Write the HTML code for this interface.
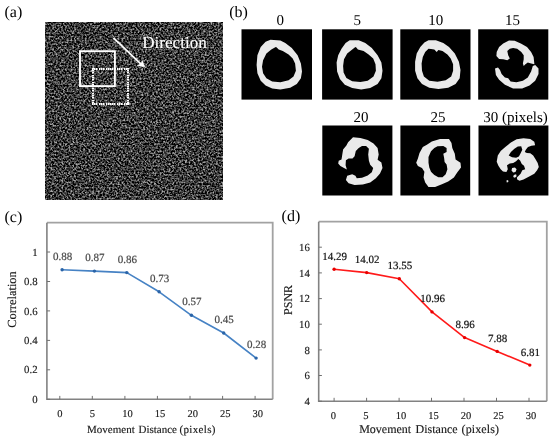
<!DOCTYPE html>
<html><head><meta charset="utf-8"><style>
html,body{margin:0;padding:0;background:#fff;}
body{width:550px;height:439px;overflow:hidden;position:relative;}
svg{position:absolute;left:0;top:0;}
text{font-family:"Liberation Serif","Times New Roman",serif;text-rendering:geometricPrecision;}
.t{fill:#1a1a1a;stroke:#1a1a1a;stroke-width:0.15;}
</style></head><body>
<svg width="550" height="439" viewBox="0 0 550 439">
<defs>
<filter id="spk" x="0" y="0" width="1" height="1" filterUnits="objectBoundingBox" color-interpolation-filters="sRGB">
<feTurbulence type="fractalNoise" baseFrequency="0.55" numOctaves="2" seed="7" result="n"/>
<feColorMatrix type="matrix" values="0 0 0 0 0  0 0 0 0 0  0 0 0 0 0  1 0 0 0 0" in="n" result="a"/>
<feComponentTransfer in="a" result="b"><feFuncA type="linear" slope="2.5" intercept="-0.91"/></feComponentTransfer>
<feFlood flood-color="#000" result="bk"/>
<feFlood flood-color="#acacac" result="wh"/>
<feComposite in="wh" in2="b" operator="in" result="whb"/>
<feMerge><feMergeNode in="bk"/><feMergeNode in="whb"/></feMerge>
</filter>
</defs>

<rect x="45" y="22" width="178" height="178" fill="#000" filter="url(#spk)"/>
<rect x="80" y="51.2" width="34.9" height="34.9" fill="none" stroke="#fff" stroke-width="1.9"/>
<path d="M92,68h1.5v2h-1.5zM92,103h1.5v2h-1.5zM94,68h1.5v2h-1.5zM94,103h1.5v2h-1.5zM96,68h1.5v2h-1.5zM96,103h1.5v2h-1.5zM99,68h1.5v2h-1.5zM99,103h1.5v2h-1.5zM101,68h1.5v2h-1.5zM101,103h1.5v2h-1.5zM103,68h1.5v2h-1.5zM103,103h1.5v2h-1.5zM106,68h1.5v2h-1.5zM106,103h1.5v2h-1.5zM108,68h1.5v2h-1.5zM108,103h1.5v2h-1.5zM110,68h1.5v2h-1.5zM110,103h1.5v2h-1.5zM112,68h1.5v2h-1.5zM112,103h1.5v2h-1.5zM114,68h1.5v2h-1.5zM114,103h1.5v2h-1.5zM117,68h1.5v2h-1.5zM117,103h1.5v2h-1.5zM119,68h1.5v2h-1.5zM119,103h1.5v2h-1.5zM121,68h1.5v2h-1.5zM121,103h1.5v2h-1.5zM124,68h1.5v2h-1.5zM124,103h1.5v2h-1.5zM126,68h1.5v2h-1.5zM126,103h1.5v2h-1.5zM92,68h2v1.5h-2zM127,68h2v1.5h-2zM92,70h2v1.5h-2zM127,70h2v1.5h-2zM92,72h2v1.5h-2zM127,72h2v1.5h-2zM92,75h2v1.5h-2zM127,75h2v1.5h-2zM92,77h2v1.5h-2zM127,77h2v1.5h-2zM92,79h2v1.5h-2zM127,79h2v1.5h-2zM92,82h2v1.5h-2zM127,82h2v1.5h-2zM92,84h2v1.5h-2zM127,84h2v1.5h-2zM92,86h2v1.5h-2zM127,86h2v1.5h-2zM92,88h2v1.5h-2zM127,88h2v1.5h-2zM92,90h2v1.5h-2zM127,90h2v1.5h-2zM92,93h2v1.5h-2zM127,93h2v1.5h-2zM92,95h2v1.5h-2zM127,95h2v1.5h-2zM92,97h2v1.5h-2zM127,97h2v1.5h-2zM92,100h2v1.5h-2zM127,100h2v1.5h-2zM92,102h2v1.5h-2zM127,102h2v1.5h-2zM127,103h2v2h-2z" fill="#fff"/>
<line x1="113.4" y1="37.8" x2="143.2" y2="66.2" stroke="#fff" stroke-width="1.7"/>
<path d="M144.8,66.9 L137.1,65.5 L140.8,63.9 L142.4,60.5 Z" fill="#fff" stroke="#fff" stroke-width="0.5" stroke-linejoin="round"/>
<text x="142.2" y="47.8" font-size="17.1" fill="#fff" stroke="#fff" stroke-width="0.1">Direction</text>
<text x="4.5" y="16.9" font-size="16">(a)</text>
<text x="229.2" y="17.1" font-size="16">(b)</text>
<text x="4.5" y="222.4" font-size="16">(c)</text>
<text x="281.6" y="221.4" font-size="16">(d)</text>
<rect x="241.5" y="29.3" width="70.5" height="70.3" fill="#000"/>
<rect x="322.1" y="29.3" width="70.5" height="70.3" fill="#000"/>
<rect x="400.3" y="29.3" width="70.2" height="70.3" fill="#000"/>
<rect x="478.2" y="29.3" width="70.1" height="70.3" fill="#000"/>
<rect x="322.3" y="125.5" width="70.1" height="70.0" fill="#000"/>
<rect x="400.4" y="125.5" width="69.8" height="70.0" fill="#000"/>
<rect x="478.5" y="125.5" width="69.9" height="70.0" fill="#000"/>
<path d="M270.5,39.7 280.4,40.5 285.3,42.9 291.8,47.9 297.6,55.2 300.9,63.4 302.0,71.6 300.9,78.2 296.8,83.9 290.2,87.7 280.4,89.4 272.2,88.4 265.6,85.6 260.7,80.7 257.4,73.3 256.6,65.1 257.4,55.2 260.7,47.0 265.6,41.8ZM275.8,47.0 271.3,49.5 266.4,53.6 263.1,60.2 262.0,66.7 263.1,73.3 266.4,78.2 272.2,81.5 280.4,82.3 288.6,80.2 293.5,76.6 295.9,70.8 295.1,63.4 292.7,58.5 288.6,54.4 282.8,51.1 278.7,49.5 276.8,47.4ZM349.7,40.2 358.7,40.2 365.3,42.9 371.8,47.9 377.6,55.2 381.4,62.6 382.5,70.8 381.4,78.2 377.6,83.9 370.2,88.0 361.2,89.4 352.2,88.0 344.8,84.8 339.9,79.0 337.1,71.6 336.6,62.6 338.2,55.2 341.5,48.7 345.6,42.9ZM355.4,47.0 351.3,50.3 347.2,53.6 344.0,59.3 343.1,65.9 343.6,72.5 346.4,77.9 352.2,81.2 360.4,82.0 367.7,80.7 373.5,76.6 375.9,70.8 375.5,64.3 373.2,58.5 368.6,54.4 363.6,51.1 357.9,49.5 356.3,47.4ZM428.5,40.2 435.9,40.2 443.3,42.9 449.0,47.0 454.8,53.6 458.9,61.8 460.5,70.0 459.7,78.2 455.6,83.9 448.2,87.7 438.4,88.9 429.3,87.7 422.0,83.9 417.4,78.2 415.1,70.8 415.1,61.8 416.7,53.6 420.3,47.0 424.4,42.4ZM428.5,48.7 425.2,52.0 422.8,56.9 421.6,63.4 422.0,70.8 423.9,76.6 429.3,80.7 437.5,81.8 445.7,80.2 451.2,76.6 453.1,70.8 453.1,64.3 450.7,58.5 447.4,54.4 442.5,51.1 438.4,50.0 436.7,52.0 434.3,49.5 431.0,49.0ZM496.4,56.1 496.7,52.0 499.1,47.0 503.2,43.4 509.0,40.5 514.7,40.8 521.3,43.8 527.0,47.0 531.1,52.0 533.6,56.9 534.4,64.3 531.1,63.4 527.8,62.6 525.4,64.3 523.7,65.9 522.9,63.4 523.7,59.3 523.7,55.2 521.3,52.0 517.2,48.7 513.1,47.9 509.8,48.7 507.3,51.1 508.2,55.2 509.8,58.5 507.3,60.2 503.2,59.3 499.1,58.9ZM495.0,68.4 495.9,74.9 499.1,79.8 504.9,84.8 513.1,88.4 522.1,88.4 529.5,85.6 535.2,80.7 538.5,74.1 538.5,68.4 535.2,65.1 532.8,65.9 531.1,71.6 527.8,77.4 522.9,80.7 516.4,82.3 510.6,81.5 508.2,78.2 504.9,77.4 501.6,74.1 500.0,70.0 498.0,67.5ZM341.5,159.4 342.3,154.5 343.1,149.6 346.4,145.5 348.1,142.2 353.0,137.3 360.4,138.1 367.7,140.1 373.5,143.4 377.6,148.0 378.7,154.5 377.6,159.8 381.4,162.4 382.5,168.0 380.0,173.4 375.9,178.3 370.2,182.4 362.8,184.5 354.6,185.0 348.6,183.2 345.9,179.9 347.2,175.8 352.2,174.2 355.4,175.8 356.8,178.3 362.0,177.8 367.7,175.5 371.8,172.2 373.2,168.0 370.2,164.7 368.9,160.8 368.2,154.5 368.9,148.8 366.1,146.0 362.0,146.0 358.7,148.0 355.8,150.9 354.6,156.2 352.5,158.6 348.6,158.6 345.9,160.3 345.6,165.2 346.9,169.6 344.0,168.0 340.4,166.0 338.2,163.5 338.7,160.8ZM431.8,141.4 440.0,138.9 449.0,138.9 451.5,143.0 452.3,148.0 454.8,153.7 455.6,159.4 460.5,162.7 461.0,167.6 457.2,172.6 453.9,177.5 448.2,181.6 442.5,184.0 435.1,187.0 428.5,187.0 425.2,182.4 423.6,177.5 424.4,171.7 422.0,168.0 417.9,166.0 416.2,162.7 417.9,158.6 419.5,152.9 422.8,147.1 426.9,144.7ZM437.5,146.3 443.3,146.0 446.6,148.0 446.6,152.1 443.3,153.7 444.1,157.8 444.6,161.9 446.6,164.4 447.4,169.3 445.7,174.2 442.5,177.2 438.4,177.2 434.3,175.0 431.0,171.7 429.3,167.6 428.5,162.7 428.5,157.0 431.0,151.2 434.3,148.0ZM496.7,161.8 497.8,155.5 500.7,150.9 505.3,147.0 510.9,142.4 516.6,139.3 523.5,138.2 530.3,139.0 534.3,141.8 535.1,145.3 531.4,145.8 528.0,147.0 525.8,149.8 524.8,152.1 526.9,153.0 530.3,153.2 533.2,155.5 535.4,158.9 537.7,162.9 538.8,166.9 537.1,170.3 534.3,173.7 529.2,176.6 523.5,179.4 519.5,180.8 517.2,179.6 516.9,177.4 520.6,173.7 522.3,170.3 525.2,169.2 524.0,165.8 521.8,164.0 520.1,160.6 518.3,158.9 516.1,161.2 513.2,162.9 509.8,163.5 507.0,165.2 507.8,169.2 506.4,172.0 503.0,171.4 500.7,169.2 498.4,165.8ZM508.7,155.5 510.9,152.1 514.4,148.7 517.8,146.4 521.2,146.2 522.3,149.8 520.6,153.2 518.9,156.6 516.1,157.8 512.1,157.2ZM512.1,168.0 514.9,167.5 516.6,169.2 515.5,172.0 513.2,172.6 511.5,170.5ZM513.8,174.9 516.1,174.3 516.6,176.2 514.9,177.7 513.2,176.9ZM506.4,180.6 508.1,180.0 508.4,181.9 506.8,182.4Z" fill="#e9e9e9" fill-rule="evenodd"/>
<text x="280.3" y="24.6" font-size="15" text-anchor="middle">0</text>
<text x="357.3" y="24.6" font-size="15" text-anchor="middle">5</text>
<text x="435.8" y="24.6" font-size="15" text-anchor="middle">10</text>
<text x="512.6" y="24.6" font-size="15" text-anchor="middle">15</text>
<text x="360.9" y="121.8" font-size="15" text-anchor="middle">20</text>
<text x="437.9" y="121.8" font-size="15" text-anchor="middle">25</text>
<text x="483.3" y="121.8" font-size="15">30 (pixels)</text>
<path d="M46.9,222.7 H272.7 V399.3" fill="none" stroke="#a2a2a2" stroke-width="1.8"/>
<path d="M46.9,222.7 V399.3 H272.7" fill="none" stroke="#828282" stroke-width="1.6"/>
<line x1="46.9" y1="399.3" x2="50.1" y2="399.3" stroke="#707070" stroke-width="1"/>
<text x="37.6" y="402.9" font-size="10.8" text-anchor="end" class="t">0</text>
<line x1="46.9" y1="369.8" x2="50.1" y2="369.8" stroke="#707070" stroke-width="1"/>
<text x="37.6" y="373.4" font-size="10.8" text-anchor="end" class="t">0.2</text>
<line x1="46.9" y1="340.4" x2="50.1" y2="340.4" stroke="#707070" stroke-width="1"/>
<text x="37.6" y="344.0" font-size="10.8" text-anchor="end" class="t">0.4</text>
<line x1="46.9" y1="310.9" x2="50.1" y2="310.9" stroke="#707070" stroke-width="1"/>
<text x="37.6" y="314.5" font-size="10.8" text-anchor="end" class="t">0.6</text>
<line x1="46.9" y1="281.5" x2="50.1" y2="281.5" stroke="#707070" stroke-width="1"/>
<text x="37.6" y="285.1" font-size="10.8" text-anchor="end" class="t">0.8</text>
<line x1="46.9" y1="252.0" x2="50.1" y2="252.0" stroke="#707070" stroke-width="1"/>
<text x="37.6" y="255.6" font-size="10.8" text-anchor="end" class="t">1</text>
<line x1="59.8" y1="399.3" x2="59.8" y2="395.9" stroke="#707070" stroke-width="1"/>
<text x="57.2" y="416.6" font-size="10.5" class="t">0</text>
<line x1="92.3" y1="399.3" x2="92.3" y2="395.9" stroke="#707070" stroke-width="1"/>
<text x="89.8" y="416.6" font-size="10.5" class="t">5</text>
<line x1="124.9" y1="399.3" x2="124.9" y2="395.9" stroke="#707070" stroke-width="1"/>
<text x="122.3" y="416.6" font-size="10.5" class="t">10</text>
<line x1="157.4" y1="399.3" x2="157.4" y2="395.9" stroke="#707070" stroke-width="1"/>
<text x="154.8" y="416.6" font-size="10.5" class="t">15</text>
<line x1="190.0" y1="399.3" x2="190.0" y2="395.9" stroke="#707070" stroke-width="1"/>
<text x="187.4" y="416.6" font-size="10.5" class="t">20</text>
<line x1="222.6" y1="399.3" x2="222.6" y2="395.9" stroke="#707070" stroke-width="1"/>
<text x="220.0" y="416.6" font-size="10.5" class="t">25</text>
<line x1="255.1" y1="399.3" x2="255.1" y2="395.9" stroke="#707070" stroke-width="1"/>
<text x="252.5" y="416.6" font-size="10.5" class="t">30</text>
<polyline points="62.1,269.7 94.4,271.1 126.8,272.6 159.1,291.8 191.4,315.3 223.7,333.0 256.1,358.1" fill="none" stroke="#4682c4" stroke-width="1.6" stroke-linejoin="round"/>
<circle cx="62.1" cy="269.7" r="1.7" fill="#2a64a8"/>
<text x="62.6" y="259.7" font-size="11" text-anchor="middle" fill="#474747" stroke="#474747" stroke-width="0.2">0.88</text>
<circle cx="94.4" cy="271.1" r="1.7" fill="#2a64a8"/>
<text x="94.9" y="261.1" font-size="11" text-anchor="middle" fill="#474747" stroke="#474747" stroke-width="0.2">0.87</text>
<circle cx="126.8" cy="272.6" r="1.7" fill="#2a64a8"/>
<text x="127.3" y="262.6" font-size="11" text-anchor="middle" fill="#474747" stroke="#474747" stroke-width="0.2">0.86</text>
<circle cx="159.1" cy="291.8" r="1.7" fill="#2a64a8"/>
<text x="159.6" y="281.8" font-size="11" text-anchor="middle" fill="#474747" stroke="#474747" stroke-width="0.2">0.73</text>
<circle cx="191.4" cy="315.3" r="1.7" fill="#2a64a8"/>
<text x="191.9" y="305.3" font-size="11" text-anchor="middle" fill="#474747" stroke="#474747" stroke-width="0.2">0.57</text>
<circle cx="223.7" cy="333.0" r="1.7" fill="#2a64a8"/>
<text x="224.2" y="323.0" font-size="11" text-anchor="middle" fill="#474747" stroke="#474747" stroke-width="0.2">0.45</text>
<circle cx="256.1" cy="358.1" r="1.7" fill="#2a64a8"/>
<text x="256.6" y="348.1" font-size="11" text-anchor="middle" fill="#474747" stroke="#474747" stroke-width="0.2">0.28</text>
<text y="432.9" font-size="11.0" class="t"><tspan x="87.1">Movement</tspan> <tspan x="138.5">Distance</tspan> <tspan x="179.4" letter-spacing="0.36">(pixels)</tspan></text>
<text transform="translate(16.4,299.5) rotate(-90)" font-size="12.4" text-anchor="middle" class="t">Correlation</text>
<path d="M318.7,221.7 H546.8 V401.2" fill="none" stroke="#a2a2a2" stroke-width="1.8"/>
<path d="M318.7,221.7 V401.2 H546.8" fill="none" stroke="#828282" stroke-width="1.6"/>
<line x1="318.7" y1="401.2" x2="321.9" y2="401.2" stroke="#707070" stroke-width="1"/>
<text x="309.8" y="404.8" font-size="10.8" text-anchor="end" class="t">4</text>
<line x1="318.7" y1="375.5" x2="321.9" y2="375.5" stroke="#707070" stroke-width="1"/>
<text x="309.8" y="379.1" font-size="10.8" text-anchor="end" class="t">6</text>
<line x1="318.7" y1="349.9" x2="321.9" y2="349.9" stroke="#707070" stroke-width="1"/>
<text x="309.8" y="353.5" font-size="10.8" text-anchor="end" class="t">8</text>
<line x1="318.7" y1="324.2" x2="321.9" y2="324.2" stroke="#707070" stroke-width="1"/>
<text x="309.8" y="327.8" font-size="10.8" text-anchor="end" class="t">10</text>
<line x1="318.7" y1="298.6" x2="321.9" y2="298.6" stroke="#707070" stroke-width="1"/>
<text x="309.8" y="302.2" font-size="10.8" text-anchor="end" class="t">12</text>
<line x1="318.7" y1="272.9" x2="321.9" y2="272.9" stroke="#707070" stroke-width="1"/>
<text x="309.8" y="276.5" font-size="10.8" text-anchor="end" class="t">14</text>
<line x1="318.7" y1="247.2" x2="321.9" y2="247.2" stroke="#707070" stroke-width="1"/>
<text x="309.8" y="250.8" font-size="10.8" text-anchor="end" class="t">16</text>
<line x1="334.1" y1="401.2" x2="334.1" y2="397.8" stroke="#707070" stroke-width="1"/>
<text x="330.8" y="419.0" font-size="10.5" class="t">0</text>
<line x1="366.6" y1="401.2" x2="366.6" y2="397.8" stroke="#707070" stroke-width="1"/>
<text x="363.3" y="419.0" font-size="10.5" class="t">5</text>
<line x1="399.1" y1="401.2" x2="399.1" y2="397.8" stroke="#707070" stroke-width="1"/>
<text x="395.8" y="419.0" font-size="10.5" class="t">10</text>
<line x1="431.5" y1="401.2" x2="431.5" y2="397.8" stroke="#707070" stroke-width="1"/>
<text x="428.2" y="419.0" font-size="10.5" class="t">15</text>
<line x1="464.0" y1="401.2" x2="464.0" y2="397.8" stroke="#707070" stroke-width="1"/>
<text x="460.7" y="419.0" font-size="10.5" class="t">20</text>
<line x1="496.5" y1="401.2" x2="496.5" y2="397.8" stroke="#707070" stroke-width="1"/>
<text x="493.2" y="419.0" font-size="10.5" class="t">25</text>
<line x1="529.0" y1="401.2" x2="529.0" y2="397.8" stroke="#707070" stroke-width="1"/>
<text x="525.7" y="419.0" font-size="10.5" class="t">30</text>
<polyline points="334.1,269.2 366.7,272.6 399.3,278.7 432.0,311.9 464.6,337.6 497.2,351.4 529.8,365.1" fill="none" stroke="#ff1a1a" stroke-width="1.6" stroke-linejoin="round"/>
<circle cx="334.1" cy="269.2" r="1.7" fill="#e80000"/>
<text x="334.6" y="259.6" font-size="11" text-anchor="middle" fill="#111" stroke="#111" stroke-width="0.2">14.29</text>
<circle cx="366.7" cy="272.6" r="1.7" fill="#e80000"/>
<text x="367.2" y="263.0" font-size="11" text-anchor="middle" fill="#111" stroke="#111" stroke-width="0.2">14.02</text>
<circle cx="399.3" cy="278.7" r="1.7" fill="#e80000"/>
<text x="399.8" y="269.1" font-size="11" text-anchor="middle" fill="#111" stroke="#111" stroke-width="0.2">13.55</text>
<circle cx="432.0" cy="311.9" r="1.7" fill="#e80000"/>
<text x="432.5" y="302.3" font-size="11" text-anchor="middle" fill="#111" stroke="#111" stroke-width="0.2">10.96</text>
<circle cx="464.6" cy="337.6" r="1.7" fill="#e80000"/>
<text x="465.1" y="328.0" font-size="11" text-anchor="middle" fill="#111" stroke="#111" stroke-width="0.2">8.96</text>
<circle cx="497.2" cy="351.4" r="1.7" fill="#e80000"/>
<text x="497.7" y="341.8" font-size="11" text-anchor="middle" fill="#111" stroke="#111" stroke-width="0.2">7.88</text>
<circle cx="529.8" cy="365.1" r="1.7" fill="#e80000"/>
<text x="530.3" y="355.5" font-size="11" text-anchor="middle" fill="#111" stroke="#111" stroke-width="0.2">6.81</text>
<text y="432.9" font-size="12.0" class="t"><tspan x="359.2">Movement</tspan> <tspan x="415.6">Distance</tspan> <tspan x="461.6" letter-spacing="0.10">(pixels)</tspan></text>
<text transform="translate(292.0,299.9) rotate(-90)" font-size="12.0" text-anchor="middle" class="t">PSNR</text>
</svg>
</body></html>
